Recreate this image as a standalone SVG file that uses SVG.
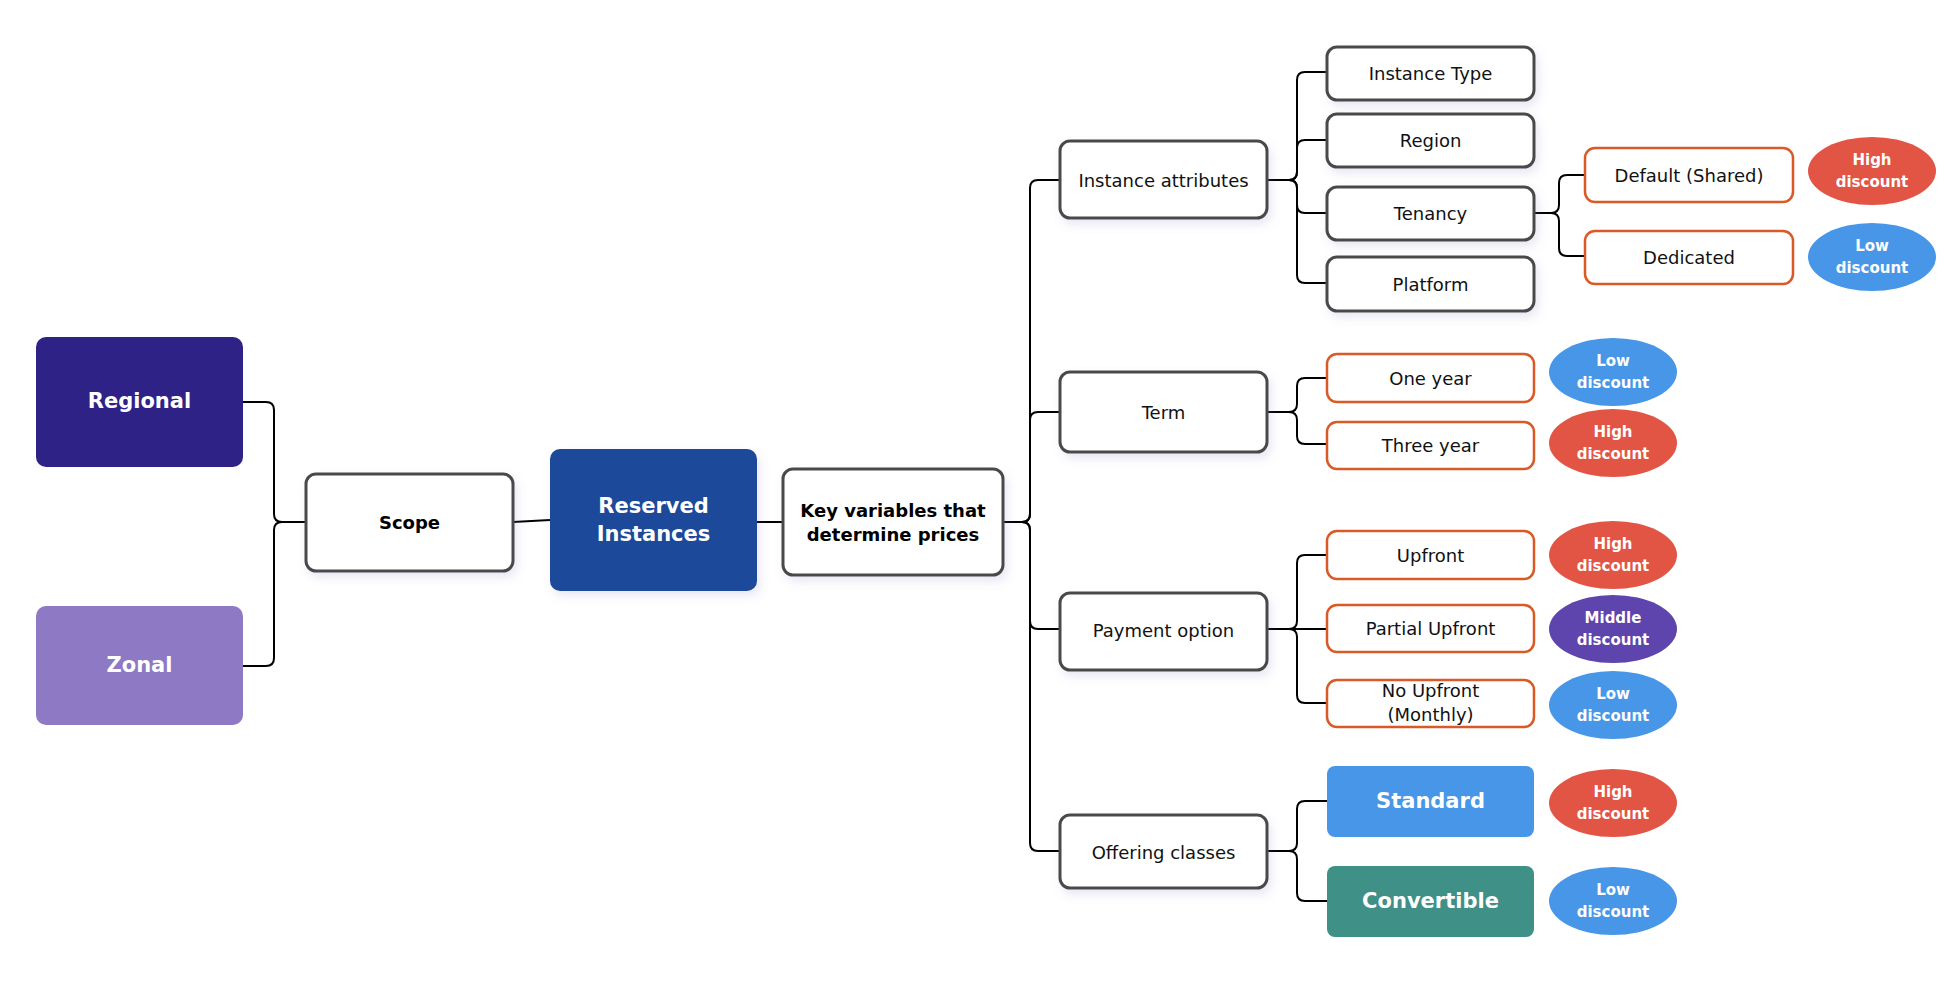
<svg xmlns="http://www.w3.org/2000/svg" width="1946" height="998" viewBox="0 0 1946 998">
<defs>
<filter id="sh" x="-20%" y="-20%" width="150%" height="160%"><feDropShadow dx="3" dy="5" stdDeviation="5" flood-color="#8878c0" flood-opacity="0.18"/></filter>
<style>
.w{fill:#fff;stroke:#4a4a4a;stroke-width:3;filter:url(#sh)}
.o{fill:#fff;stroke:#d95a26;stroke-width:2.5}
.t{font-family:"DejaVu Sans",Verdana,sans-serif;font-size:18px;fill:#111;text-anchor:middle;dominant-baseline:central}
.b{font-family:"DejaVu Sans",Verdana,sans-serif;font-size:18px;font-weight:bold;fill:#000;text-anchor:middle;dominant-baseline:central}
.wb{font-family:"DejaVu Sans",Verdana,sans-serif;font-size:21px;font-weight:bold;fill:#fff;text-anchor:middle;dominant-baseline:central}
.e{font-family:"DejaVu Sans",Verdana,sans-serif;font-size:15px;font-weight:bold;fill:#fff;text-anchor:middle;dominant-baseline:central}
.c{fill:none;stroke:#000;stroke-width:2}
</style>
</defs>
<rect width="1946" height="998" fill="#fff"/>
<g id="connectors" class="c">
<path d="M243,402 H266 Q274,402 274,410 V514 Q274,522 282,522 H306"/>
<path d="M243,666 H266 Q274,666 274,658 V530 Q274,522 282,522 H306"/>
<path d="M513,522 L550,520"/>
<path d="M757,522 H783"/>
<path d="M1003,522 H1022 Q1030,522 1030,514 V188 Q1030,180 1038,180 H1060"/>
<path d="M1003,522 H1022 Q1030,522 1030,514 V420 Q1030,412 1038,412 H1060"/>
<path d="M1003,522 H1022 Q1030,522 1030,530 V621 Q1030,629 1038,629 H1060"/>
<path d="M1003,522 H1022 Q1030,522 1030,530 V843 Q1030,851 1038,851 H1060"/>
<path d="M1267,180 H1289 Q1297,180 1297,172 V80 Q1297,72 1305,72 H1327"/>
<path d="M1267,180 H1289 Q1297,180 1297,172 V148 Q1297,140 1305,140 H1327"/>
<path d="M1267,180 H1289 Q1297,180 1297,188 V205 Q1297,213 1305,213 H1327"/>
<path d="M1267,180 H1289 Q1297,180 1297,188 V275 Q1297,283 1305,283 H1327"/>
<path d="M1534,213 H1551 Q1559,213 1559,205 V183 Q1559,175 1567,175 H1585"/>
<path d="M1534,213 H1551 Q1559,213 1559,221 V248 Q1559,256 1567,256 H1585"/>
<path d="M1267,412 H1289 Q1297,412 1297,404 V386 Q1297,378 1305,378 H1327"/>
<path d="M1267,412 H1289 Q1297,412 1297,420 V436 Q1297,444 1305,444 H1327"/>
<path d="M1267,629 H1289 Q1297,629 1297,621 V563 Q1297,555 1305,555 H1327"/>
<path d="M1267,629 H1327"/>
<path d="M1267,629 H1289 Q1297,629 1297,637 V695 Q1297,703 1305,703 H1327"/>
<path d="M1267,851 H1289 Q1297,851 1297,843 V809 Q1297,801 1305,801 H1327"/>
<path d="M1267,851 H1289 Q1297,851 1297,859 V893 Q1297,901 1305,901 H1327"/>
</g>
<g id="regional"><rect x="36" y="337" width="207" height="130" rx="10" fill="#2e2287"/><text class="wb" x="139.5" y="401">Regional</text></g>
<g id="zonal"><rect x="36" y="606" width="207" height="119" rx="10" fill="#8e79c4"/><text class="wb" x="139.5" y="665">Zonal</text></g>
<g id="scope"><rect class="w" x="306" y="474" width="207" height="97" rx="10"/><text class="b" x="409.5" y="522">Scope</text></g>
<g id="reserved"><rect x="550" y="449" width="207" height="142" rx="10" fill="#1e4a99" filter="url(#sh)"/><text class="wb" x="653.5" y="506">Reserved</text><text class="wb" x="653.5" y="534">Instances</text></g>
<g id="keyvars"><rect class="w" x="783" y="469" width="220" height="106" rx="10"/><text class="b" x="893" y="510">Key variables that</text><text class="b" x="893" y="534">determine prices</text></g>
<g id="attrs"><rect class="w" x="1060" y="141" width="207" height="77" rx="10"/><text class="t" x="1163.5" y="180">Instance attributes</text></g>
<g id="term"><rect class="w" x="1060" y="372" width="207" height="80" rx="10"/><text class="t" x="1163.5" y="412">Term</text></g>
<g id="payment"><rect class="w" x="1060" y="593" width="207" height="77" rx="10"/><text class="t" x="1163.5" y="630">Payment option</text></g>
<g id="offering"><rect class="w" x="1060" y="815" width="207" height="73" rx="10"/><text class="t" x="1163.5" y="852">Offering classes</text></g>
<g id="itype"><rect class="w" x="1327" y="47" width="207" height="53" rx="10"/><text class="t" x="1430.5" y="73">Instance Type</text></g>
<g id="region"><rect class="w" x="1327" y="114" width="207" height="53" rx="10"/><text class="t" x="1430.5" y="140">Region</text></g>
<g id="tenancy"><rect class="w" x="1327" y="187" width="207" height="53" rx="10"/><text class="t" x="1430.5" y="213">Tenancy</text></g>
<g id="platform"><rect class="w" x="1327" y="257" width="207" height="54" rx="10"/><text class="t" x="1430.5" y="284">Platform</text></g>
<g id="default"><rect class="o" x="1585" y="148" width="208" height="54" rx="10"/><text class="t" x="1689" y="175">Default (Shared)</text></g>
<g id="dedicated"><rect class="o" x="1585" y="231" width="208" height="53" rx="10"/><text class="t" x="1689" y="257">Dedicated</text></g>
<g id="oneyear"><rect class="o" x="1327" y="354" width="207" height="48" rx="10"/><text class="t" x="1430.5" y="378">One year</text></g>
<g id="threeyear"><rect class="o" x="1327" y="422" width="207" height="47" rx="10"/><text class="t" x="1430.5" y="445">Three year</text></g>
<g id="upfront"><rect class="o" x="1327" y="531" width="207" height="48" rx="10"/><text class="t" x="1430.5" y="555">Upfront</text></g>
<g id="partial"><rect class="o" x="1327" y="605" width="207" height="47" rx="10"/><text class="t" x="1430.5" y="628">Partial Upfront</text></g>
<g id="noupfront"><rect class="o" x="1327" y="680" width="207" height="47" rx="10"/><text class="t" x="1430.5" y="690">No Upfront</text><text class="t" x="1430.5" y="714">(Monthly)</text></g>
<g id="standard"><rect x="1327" y="766" width="207" height="71" rx="8" fill="#4796e8"/><text class="wb" x="1430.5" y="801">Standard</text></g>
<g id="convertible"><rect x="1327" y="866" width="207" height="71" rx="8" fill="#3f9087"/><text class="wb" x="1430.5" y="901">Convertible</text></g>
<g id="e1"><ellipse cx="1872" cy="171" rx="64" ry="34" fill="#e25444"/><text class="e" x="1872" y="160">High</text><text class="e" x="1872" y="182">discount</text></g>
<g id="e2"><ellipse cx="1872" cy="257" rx="64" ry="34" fill="#4796e8"/><text class="e" x="1872" y="246">Low</text><text class="e" x="1872" y="268">discount</text></g>
<g id="e3"><ellipse cx="1613" cy="372" rx="64" ry="34" fill="#4796e8"/><text class="e" x="1613" y="361">Low</text><text class="e" x="1613" y="383">discount</text></g>
<g id="e4"><ellipse cx="1613" cy="443" rx="64" ry="34" fill="#e25444"/><text class="e" x="1613" y="432">High</text><text class="e" x="1613" y="454">discount</text></g>
<g id="e5"><ellipse cx="1613" cy="555" rx="64" ry="34" fill="#e25444"/><text class="e" x="1613" y="544">High</text><text class="e" x="1613" y="566">discount</text></g>
<g id="e6"><ellipse cx="1613" cy="629" rx="64" ry="34" fill="#5e44ad"/><text class="e" x="1613" y="618">Middle</text><text class="e" x="1613" y="640">discount</text></g>
<g id="e7"><ellipse cx="1613" cy="705" rx="64" ry="34" fill="#4796e8"/><text class="e" x="1613" y="694">Low</text><text class="e" x="1613" y="716">discount</text></g>
<g id="e8"><ellipse cx="1613" cy="803" rx="64" ry="34" fill="#e25444"/><text class="e" x="1613" y="792">High</text><text class="e" x="1613" y="814">discount</text></g>
<g id="e9"><ellipse cx="1613" cy="901" rx="64" ry="34" fill="#4796e8"/><text class="e" x="1613" y="890">Low</text><text class="e" x="1613" y="912">discount</text></g>
</svg>
